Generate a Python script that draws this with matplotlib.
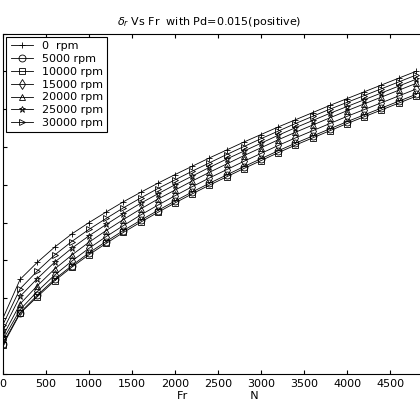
import matplotlib
matplotlib.use("Agg")
import matplotlib.pyplot as plt

fr = [0, 200, 400, 600, 800, 1000, 1200, 1400, 1600, 1800, 2000, 2200, 2400,
      2600, 2800, 3000, 3200, 3400, 3600, 3800, 4000, 4200, 4400, 4600, 4800]

d_0 = [1.47, 2.50, 2.95, 3.35, 3.70, 4.00, 4.28, 4.55, 4.80, 5.04, 5.27, 5.49, 5.71,
       5.92, 6.13, 6.33, 6.53, 6.72, 6.91, 7.10, 7.28, 7.46, 7.64, 7.82, 8.00]
d_5000 = [0.80, 1.62, 2.08, 2.50, 2.86, 3.20, 3.50, 3.79, 4.06, 4.32, 4.57, 4.81, 5.04,
          5.26, 5.48, 5.69, 5.90, 6.10, 6.29, 6.48, 6.67, 6.85, 7.03, 7.21, 7.39]
d_10000 = [0.76, 1.60, 2.04, 2.46, 2.82, 3.15, 3.45, 3.74, 4.01, 4.27, 4.52, 4.76, 4.99,
           5.21, 5.43, 5.64, 5.85, 6.05, 6.24, 6.43, 6.62, 6.80, 6.98, 7.16, 7.34]
d_15000 = [0.90, 1.70, 2.18, 2.61, 2.98, 3.32, 3.63, 3.92, 4.20, 4.46, 4.71, 4.95, 5.18,
           5.40, 5.62, 5.83, 6.04, 6.24, 6.43, 6.62, 6.81, 6.99, 7.17, 7.35, 7.53]
d_20000 = [1.00, 1.85, 2.33, 2.77, 3.14, 3.48, 3.79, 4.08, 4.36, 4.62, 4.86, 5.10, 5.33,
           5.55, 5.77, 5.98, 6.19, 6.39, 6.58, 6.77, 6.96, 7.14, 7.32, 7.50, 7.68]
d_25000 = [1.15, 2.05, 2.52, 2.95, 3.32, 3.65, 3.95, 4.24, 4.51, 4.76, 5.00, 5.23, 5.46,
           5.68, 5.89, 6.10, 6.31, 6.51, 6.70, 6.89, 7.07, 7.25, 7.43, 7.61, 7.79]
d_30000 = [1.30, 2.25, 2.72, 3.14, 3.50, 3.82, 4.11, 4.39, 4.65, 4.90, 5.13, 5.36, 5.58,
           5.80, 6.01, 6.22, 6.42, 6.62, 6.81, 7.00, 7.18, 7.36, 7.54, 7.72, 7.90]

series = [("0  rpm", d_0, "+"), ("5000 rpm", d_5000, "o"), ("10000 rpm", d_10000, "s"),
          ("15000 rpm", d_15000, "d"), ("20000 rpm", d_20000, "^"),
          ("25000 rpm", d_25000, "*"), ("30000 rpm", d_30000, ">")]

fig = plt.figure(figsize=(4.2, 4.2), dpi=100)
ax = fig.add_axes([0.007, 0.11, 1.024, 0.81])
for lab, vals, m in series:
    ax.plot(fr, vals, color="black", lw=0.6, marker=m, ms=5, mew=0.6,
            fillstyle="none", label=lab)

ax.set_xlim(0, 5000)
ax.set_ylim(0, 9)
ax.set_xticks(range(0, 5001, 500))
ax.set_xticklabels(["0"] + [str(v) for v in range(500, 4501, 500)] + [""])
ax.set_yticks(range(0, 10))
ax.set_yticklabels([])
ax.tick_params(direction="in", top=True, right=True, labelsize=8, length=3)
ax.set_title(r"$\delta_r$ Vs Fr  with Pd=0.015(positive)", fontsize=8, x=0.48)
ax.set_xlabel("Fr                  N", fontsize=8, labelpad=2)
leg = ax.legend(loc="upper left", fontsize=8, fancybox=False, edgecolor="black",
                framealpha=1, handlelength=2, borderaxespad=0.3, labelspacing=0.25)
leg.get_frame().set_linewidth(0.8)
fig.savefig("out.png", dpi=100)
